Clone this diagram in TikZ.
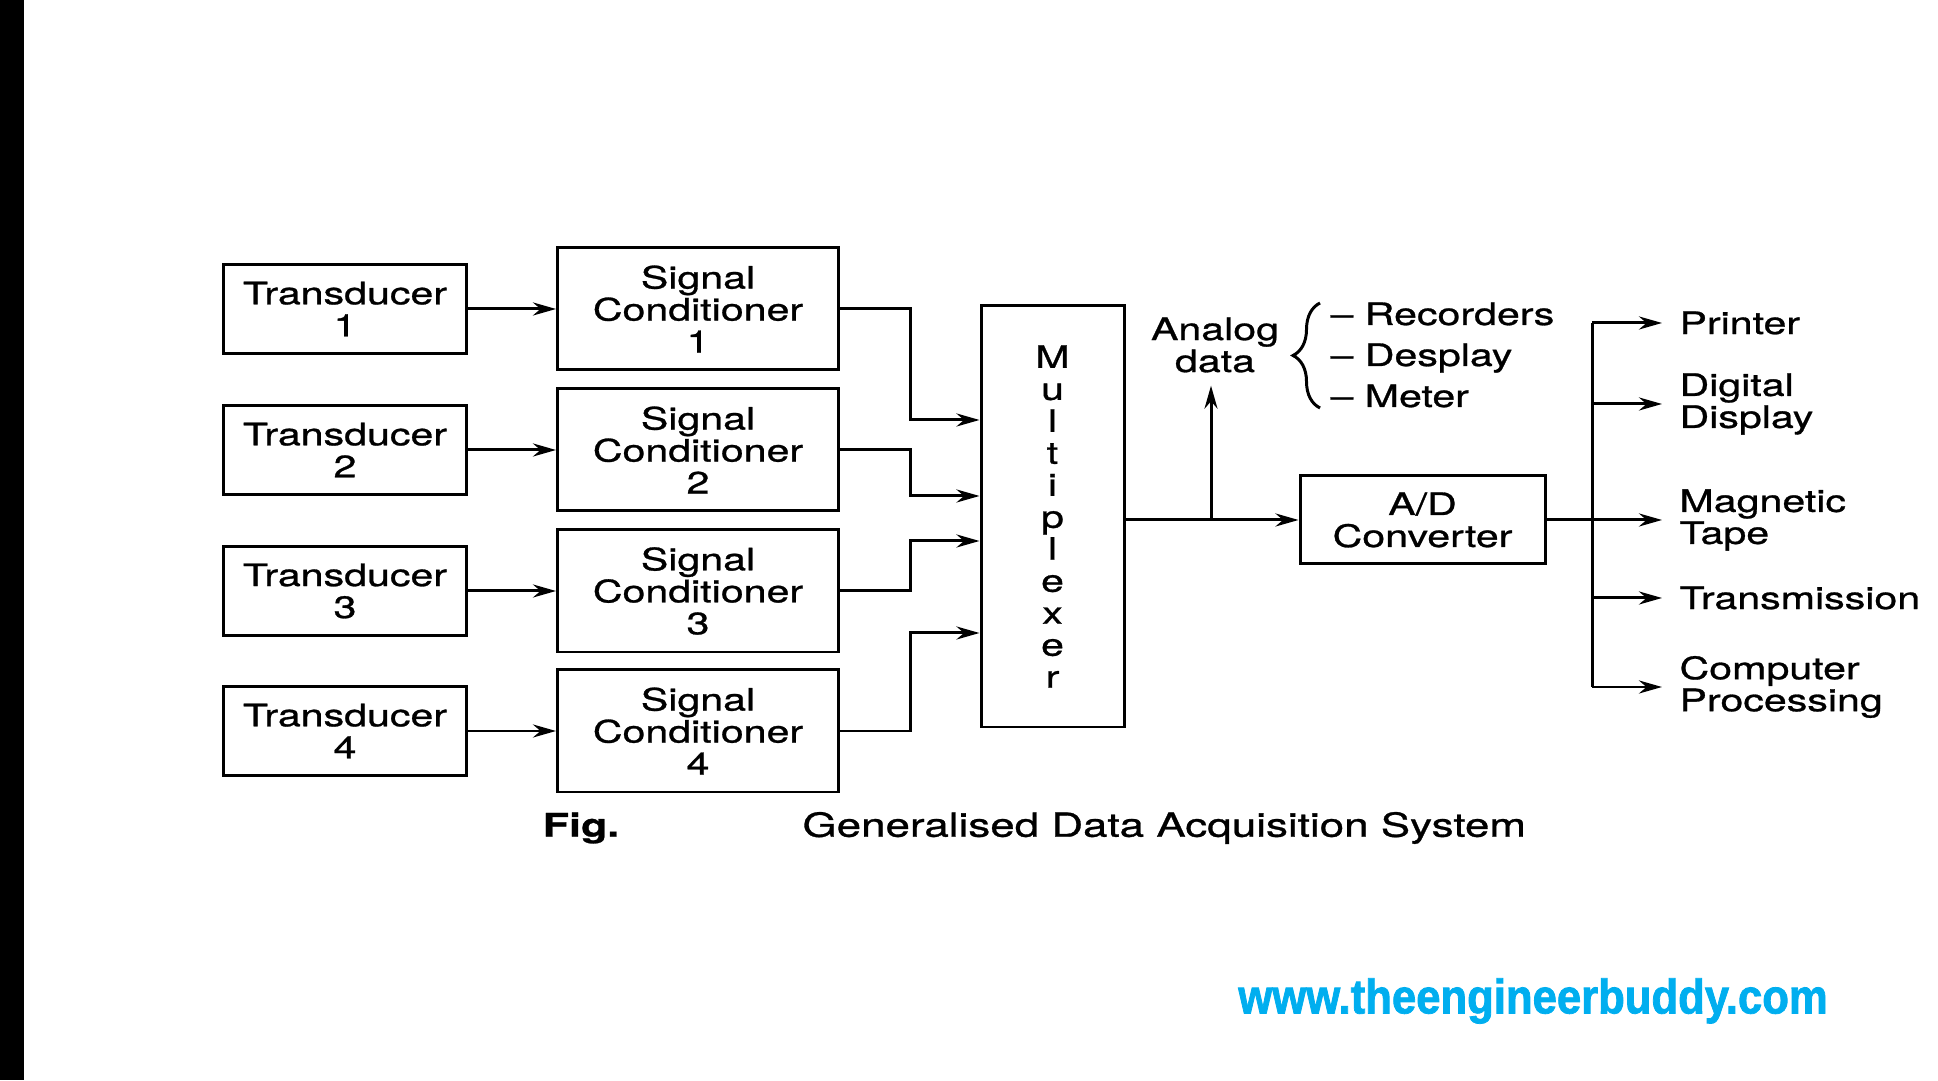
\documentclass[tikz,border=0pt]{standalone}
\usepackage{fontspec}
\setmainfont{TeX Gyre Heros}[FakeStretch=1.33, FakeBold=0.9]
\newfontfamily\urlfont{Liberation Sans}[FakeStretch=0.9, FakeBold=1.6]
\usetikzlibrary{arrows.meta,calc,positioning,decorations.pathreplacing}
\definecolor{urlblue}{RGB}{0,174,239}

\begin{document}
\begin{tikzpicture}[>={Stealth[length=2.3mm,width=1.3mm]}, line width=0.85pt,
    every node/.style={font=\fontsize{8.8}{9.1}\selectfont},
    block/.style={draw, rectangle, align=center, inner sep=0pt},
    tbox/.style={block, minimum width=2.43cm, minimum height=0.89cm},
    scbox/.style={block, minimum width=2.81cm, minimum height=1.22cm},
    outlbl/.style={anchor=west, align=left, inner xsep=0.16cm, inner ysep=0pt},
    item/.style={anchor=base west, inner sep=0pt}]
    \useasboundingbox (0,0) rectangle (19.38,10.8);
    \fill (0,0) rectangle (0.24,10.8);

    % input channels
    \foreach \i/\yrow in {1/7.71,2/6.30,3/4.89,4/3.49} {
        \node[tbox] (t\i) at (3.45,\yrow) {Transducer\\\i};
        \node[scbox] (sc\i) at (6.98,\yrow) {Signal\\Conditioner\\\i};
        \draw[->] (t\i) -- (sc\i);
    }

    \node[block, minimum width=1.43cm, minimum height=4.21cm] (mux) at (10.525,5.635)
        {M\\u\\l\\t\\i\\p\\l\\e\\x\\e\\r};
    \foreach \i/\dy in {1/0.965,2/0.205,3/-0.245,4/-1.165} {
        \coordinate (m\i) at ($(mux.west)+(0,\dy)$);
        \draw[->] (sc\i.east) -| ($(m\i)+(-0.69,0)$) -- (m\i);
    }

    % A/D and analog branch
    \node[block, minimum width=2.45cm, minimum height=0.88cm] (ad) at (14.225,5.60) {A/D\\Converter};
    \coordinate (br) at (12.11,5.60);
    \draw[->] (mux.east |- ad) -- (ad.west);
    \node[align=center] (an) at (12.15,7.35) {Analog\\data};
    \draw[->] (br) -- (br |- an.south);
    \draw[decorate, decoration={brace, amplitude=0.27cm}] (13.2,6.72) -- (13.2,7.77);
    \node[item] (rec) at (13.29,7.55) {-- Recorders};
    \node[item] (disp) at (13.29,7.14) {-- Desplay};
    \node[item] (met) at (13.29,6.73) {-- Meter};

    % outputs
    \node[outlbl] (prn) at (16.62,7.57) {Printer};
    \node[outlbl] (dd) at (16.62,6.76) {Digital\\Display};
    \node[outlbl] (mt) at (16.62,5.60) {Magnetic\\Tape};
    \node[outlbl] (tx) at (16.62,4.82) {Transmission};
    \node[outlbl] (cp) at (16.62,3.93) {Computer\\Processing};
    \coordinate (bus) at (15.92,5.60);
    \draw (ad.east) -- (bus);
    \draw (bus |- prn.west) -- (bus |- cp.west);
    \foreach \n in {prn,dd,mt,tx,cp}
        \draw[->] (bus |- \n.west) -- (\n.west);

    \node[font=\fontsize{9.2}{9.4}\selectfont\bfseries] (fig) at (5.81,2.52) {Fig.};
    \node[anchor=west, inner sep=0pt, font=\fontsize{9.4}{9.6}\selectfont] (ttl) at (8.01,2.52)
        {Generalised Data Acquisition System};

    \node[font=\urlfont\bfseries\fontsize{13.8}{16}\selectfont, text=urlblue] (url) at (15.33,0.79)
        {www.theengineerbuddy.com};
\end{tikzpicture}
\end{document}
